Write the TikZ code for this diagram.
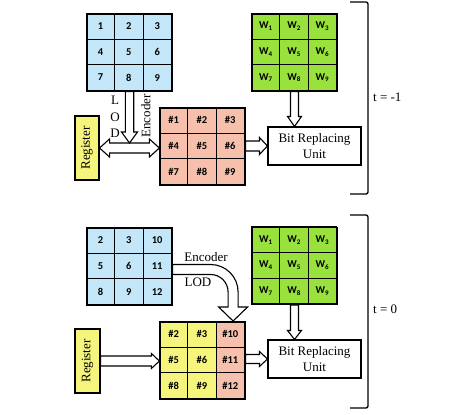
\documentclass[tikz,border=0pt]{standalone}
\usepackage{fontspec}
\setmainfont{Liberation Serif}
\newfontfamily\cellfont{Carlito}
\usetikzlibrary{calc}
\definecolor{bluec}{RGB}{195,230,248}
\definecolor{pinkc}{RGB}{246,192,172}
\definecolor{greenc}{RGB}{153,225,60}
\definecolor{yellowc}{RGB}{245,245,125}
\tikzset{
  cellbox/.style={draw=black, line width=1pt, minimum width=28.33pt, minimum height=25.67pt, inner sep=0pt, font=\cellfont\bfseries\fontsize{10.5}{12}\selectfont},
  gridframe/.style={draw=black, line width=1.2pt, minimum width=85pt, minimum height=77pt, inner sep=0pt},
  regbox/.style={draw=black, line width=1.1pt, fill=yellowc, minimum width=24pt, minimum height=64pt, inner sep=0pt, font=\fontsize{13}{15}\selectfont},
  brubox/.style={draw=black, line width=1.1pt, fill=white, minimum width=93pt, minimum height=38pt, align=center, font=\fontsize{13}{16}\selectfont, inner sep=0pt},
  blk/.style={draw=black, line width=1.1pt, fill=white, line join=miter},
  lbl/.style={font=\fontsize{13}{15}\selectfont, inner sep=0pt},
  brk/.style={draw=black, line width=1.3pt, rounded corners=2pt}
}
\newcommand\mkgrid[3]{%
  \node[gridframe] (#1) at (#2) {};
  \foreach \r/\c/\t/\f in {#3} {
    \node[cellbox, fill=\f] (#1-\r\c) at ($(#1.north west)+(\c*28.333-14.167, \r*25.667-12.833)$) {\t};
  }
  \node[gridframe] at (#2) {};
}
\newcommand\W[1]{W\raisebox{-0.35ex}{\fontsize{7}{7}\selectfont #1}}
% horizontal right block arrow: from #1 to tip #2
\newcommand\blkR[5]{\draw[blk] let \p1=(#1), \p2=(#2) in
  (\x1,\y2+#3) -- (\x2-#5,\y2+#3) -- (\x2-#5,\y2+#4) -- (\x2,\y2) -- (\x2-#5,\y2-#4) -- (\x2-#5,\y2-#3) -- (\x1,\y2-#3) -- cycle;}
% vertical down block arrow
\newcommand\blkD[5]{\draw[blk] let \p1=(#1), \p2=(#2) in
  (\x1-#3,\y1) -- (\x1-#3,\y2+#5) -- (\x1-#4,\y2+#5) -- (\x1,\y2) -- (\x1+#4,\y2+#5) -- (\x1+#3,\y2+#5) -- (\x1+#3,\y1) -- cycle;}
% double-headed horizontal block arrow
\newcommand\blkLR[5]{\draw[blk] let \p1=(#1), \p2=(#2) in
  (\x1,\y1) -- (\x1+#5,\y1+#4) -- (\x1+#5,\y1+#3) -- (\x2-#5,\y1+#3) -- (\x2-#5,\y1+#4) -- (\x2,\y1)
  -- (\x2-#5,\y1-#4) -- (\x2-#5,\y1-#3) -- (\x1+#5,\y1-#3) -- (\x1+#5,\y1-#4) -- cycle;}
\begin{document}
\begin{tikzpicture}[x=1pt,y=-1pt]
\useasboundingbox (0,0) rectangle (474,415);
% ---------- t = -1 ----------
\mkgrid{blueA}{129.5,52.5}{1/1/1/bluec,1/2/2/bluec,1/3/3/bluec,2/1/4/bluec,2/2/5/bluec,2/3/6/bluec,3/1/7/bluec,3/2/8/bluec,3/3/9/bluec}
\mkgrid{pinkA}{202.5,146.5}{1/1/\#1/pinkc,1/2/\#2/pinkc,1/3/\#3/pinkc,2/1/\#4/pinkc,2/2/\#5/pinkc,2/3/\#6/pinkc,3/1/\#7/pinkc,3/2/\#8/pinkc,3/3/\#9/pinkc}
\mkgrid{greenA}{294.5,52.5}{1/1/\W{1}/greenc,1/2/\W{2}/greenc,1/3/\W{3}/greenc,2/1/\W{4}/greenc,2/2/\W{5}/greenc,2/3/\W{6}/greenc,3/1/\W{7}/greenc,3/2/\W{8}/greenc,3/3/\W{9}/greenc}
\node[regbox] (reg1) at (87,148) {\rotatebox{90}{Register}};
\node[brubox] (bru1) at (314.5,146) {Bit Replacing\\Unit};
\coordinate (lodtip) at (129.5,143);
\blkLR{reg1.east}{pinkA.west |- reg1.east}{5pt}{9pt}{10pt}
\blkD{blueA.south}{lodtip}{4.2pt}{8pt}{11pt}
\blkR{pinkA.east |- bru1.west}{bru1.west}{5pt}{8.5pt}{8pt}
\blkD{greenA.south}{greenA.south |- bru1.north}{4pt}{7pt}{10pt}
\node[lbl] (l1) at (115,100) {L};
\node[lbl] (o1) at (115,117) {O};
\node[lbl] (d1) at (115,133) {D};
\node[lbl, rotate=90] (enc1) at (146,116) {Encoder};
\draw[brk] (350,2) -- (368,2) -- (368,194) -- (350,194);
\node[lbl, anchor=west] (t1) at (373,97) {t = -1};
% ---------- t = 0 ----------
\mkgrid{blueB}{129.5,266.5}{1/1/2/bluec,1/2/3/bluec,1/3/10/bluec,2/1/5/bluec,2/2/6/bluec,2/3/11/bluec,3/1/8/bluec,3/2/9/bluec,3/3/12/bluec}
\mkgrid{gridB}{202.5,360.5}{1/1/\#2/yellowc,1/2/\#3/yellowc,1/3/\#10/pinkc,2/1/\#5/yellowc,2/2/\#6/yellowc,2/3/\#11/pinkc,3/1/\#8/yellowc,3/2/\#9/yellowc,3/3/\#12/pinkc}
\mkgrid{greenB}{294.5,266}{1/1/\W{1}/greenc,1/2/\W{2}/greenc,1/3/\W{3}/greenc,2/1/\W{4}/greenc,2/2/\W{5}/greenc,2/3/\W{6}/greenc,3/1/\W{7}/greenc,3/2/\W{8}/greenc,3/3/\W{9}/greenc}
\node[regbox, minimum width=25pt] (reg2) at (87.5,361) {\rotatebox{90}{Register}};
\node[brubox] (bru2) at (314.5,359) {Bit Replacing\\Unit};
\blkR{reg2.east}{gridB.west |- reg2.east}{5pt}{7.5pt}{8pt}
\blkR{gridB.east |- bru2.west}{bru2.west}{4.5pt}{7.5pt}{8pt}
\blkD{greenB.south}{greenB.south |- bru2.north}{4pt}{7pt}{9pt}
\begin{scope}[shift={(blueB.east)}]
\draw[blk] (0,-2) -- (38,-2) .. controls (53.2,-2) and (65.5,10.3) .. (65.5,25.5)
  -- (65.5,40.5) -- (75,40.5) -- (60.5,54.5) -- (46,40.5) -- (55.5,40.5) -- (55.5,25.5)
  .. controls (55.5,15.8) and (47.7,8) .. (38,8) -- (0,8) -- cycle;
\end{scope}
\node[lbl] (enc2) at (206,257) {Encoder};
\node[lbl] (lod2) at (198,282) {LOD};
\draw[brk] (350,215) -- (368,215) -- (368,408) -- (350,408);
\node[lbl, anchor=west] (t2) at (373,309) {t = 0};
\end{tikzpicture}
\end{document}
